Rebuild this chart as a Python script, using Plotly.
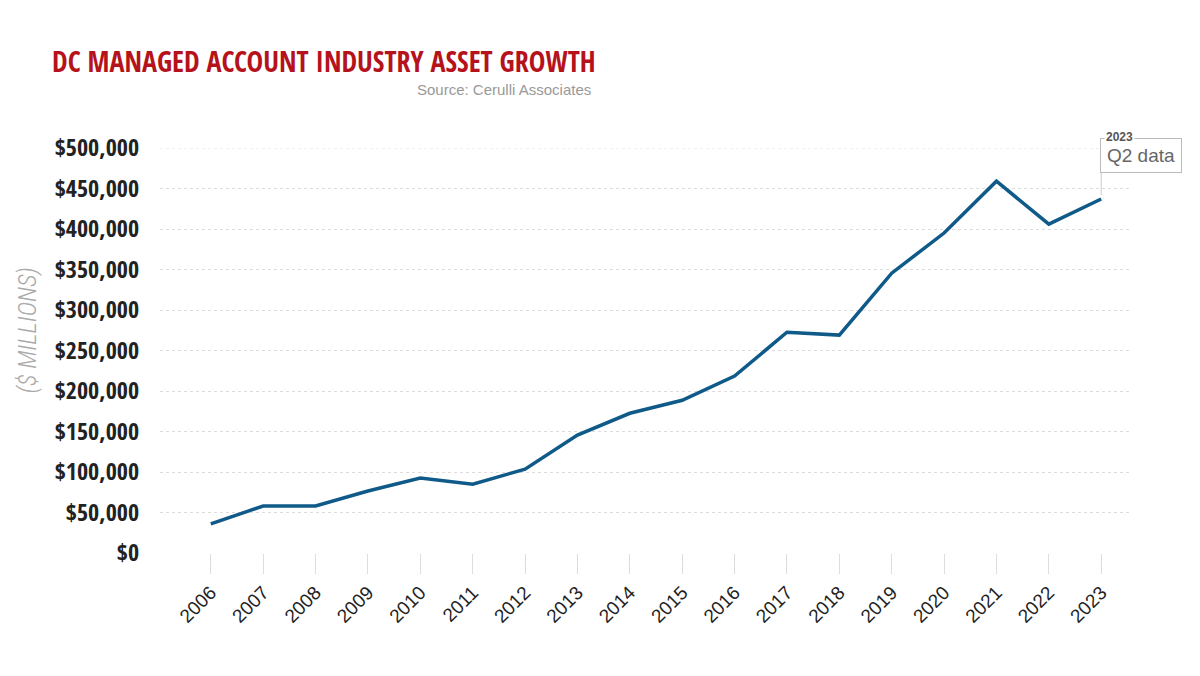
import plotly.graph_objects as go

years = [str(y) for y in range(2006, 2024)]
assets = [36000, 58000, 58000, 76500, 92500, 85000, 103500, 145500, 172500,
          188500, 218500, 272500, 269000, 345500, 395000, 459000, 406000, 437000]
y_ticks = list(range(0, 500001, 50000))
y_tick_labels = ["$" + format(v, ",") for v in y_ticks]

title_text = "DC MANAGED ACCOUNT INDUSTRY ASSET GROWTH"
source_text = "Source: Cerulli Associates"
y_title = "($ MILLIONS)"
note_year = "2023"
note_text = "Q2 data"

last_idx = len(years) - 1

fig = go.Figure()
fig.add_trace(go.Scatter(
    x=years, y=assets, mode="lines",
    line=dict(color="#0f5a88", width=3.5),
    cliponaxis=False, hoverinfo="x+y"
))

cond = "Open Sans Condensed, Roboto Condensed, sans-serif"
thin = "Roboto Condensed, Open Sans Condensed, sans-serif"
sans = "Liberation Sans, Arial, sans-serif"

fig.update_layout(
    width=1200, height=676,
    paper_bgcolor="white", plot_bgcolor="white",
    margin=dict(l=160, r=70, t=148, b=123),
    showlegend=False,
    title=dict(
        text=title_text,
        x=52/1200, xanchor="left", xref="container",
        y=1-62/676, yanchor="middle", yref="container",
        font=dict(family=cond, size=28, color="#b5121b", weight="bold"),
    ),
    xaxis=dict(
        type="category",
        range=[-0.97, 17.55],
        showgrid=False, zeroline=False, showline=False,
        ticks="outside", ticklen=20, tickwidth=1, tickcolor="#dddddd",
        tickangle=-45,
        tickfont=dict(family=sans, size=19, color="#222222"),
    ),
    yaxis=dict(
        range=[0, 500000],
        tickvals=y_ticks, ticktext=y_tick_labels,
        showgrid=True, gridcolor="#dddddd", griddash="dot", gridwidth=1,
        zeroline=False, showline=False,
        ticks="", ticklabelstandoff=20,
        tickfont=dict(family=cond, size=24, color="#222222", weight="bold"),
    ),
)

# top gridline (range edge)
fig.add_shape(
    type="line", xref="paper", yref="y", x0=0, x1=1, y0=y_ticks[-1], y1=y_ticks[-1],
    line=dict(color="#dddddd", width=1, dash="dot"), layer="below",
)

# y-axis title
fig.add_annotation(
    text=y_title, textangle=-90, showarrow=False,
    xref="paper", yref="paper", x=0, y=0.55, xanchor="center", yanchor="middle",
    xshift=-133,
    font=dict(family=thin, size=25, color="#aaaaaa", style="italic", weight=300),
)

# source
fig.add_annotation(
    text=source_text, showarrow=False,
    xref="paper", yref="paper", x=(593-160)/970, y=(553-89)/405,
    xanchor="right", yanchor="middle",
    font=dict(family=sans, size=15, color="#999999"),
)

# note connector
fig.add_shape(
    type="line", xref="x", yref="y", x0=last_idx, x1=last_idx,
    ysizemode="pixel", yanchor=assets[-1], y0=4, y1=26,
    line=dict(color="#cccccc", width=1),
)
fig.add_annotation(
    text=note_text, showarrow=False,
    xref="x", yref="y", x=last_idx, y=assets[-1],
    xanchor="left", yanchor="bottom", yshift=26, xshift=-1,
    bordercolor="#bbbbbb", borderwidth=1, borderpad=6, bgcolor="white",
    font=dict(family=sans, size=19, color="#666666"),
)
fig.add_annotation(
    text=note_year, showarrow=False,
    xref="x", yref="y", x=last_idx, y=assets[-1],
    xanchor="left", yanchor="middle", yshift=62, xshift=3,
    bgcolor="white", borderpad=1,
    font=dict(family=sans, size=12, color="#555555", weight="bold"),
)

fig.write_html("out.html", config={"displayModeBar": False},
               post_script="document.body.style.margin='0';document.body.style.overflow='hidden';")
